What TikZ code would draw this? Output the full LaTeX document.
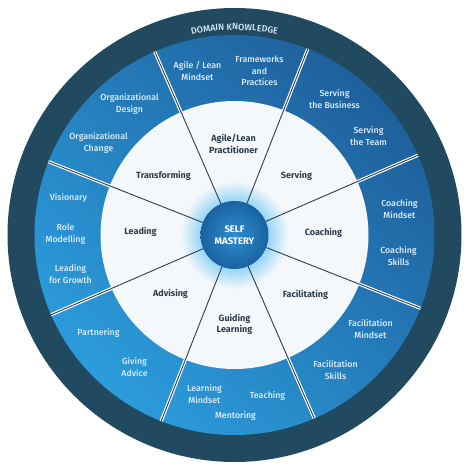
\documentclass[tikz,border=0pt]{standalone}
\usepackage{fontspec}
\setmainfont{Fira Sans}
\newfontfamily\ringfont{Fira Sans Medium}
\usetikzlibrary{decorations.text}

\definecolor{darkring}{HTML}{21495F}
\definecolor{ringtop}{HTML}{1E609C}
\definecolor{ringbot}{HTML}{2C9CDC}
\definecolor{diskfill}{HTML}{F4F8FB}
\definecolor{spoke}{HTML}{2B3F50}
\definecolor{ringtxt}{HTML}{DCECF8}
\definecolor{roletxt}{HTML}{2E3D4C}
\definecolor{glow}{HTML}{9AD6F6}
\definecolor{selfin}{HTML}{2E8ED0}
\definecolor{selfout}{HTML}{1A62A0}

\pgfdeclareradialshading{glowshade}{\pgfpoint{0bp}{0bp}}{color(0bp)=(glow); color(16bp)=(glow); color(25bp)=(diskfill); color(50bp)=(diskfill)}
\pgfdeclareradialshading{selfshade}{\pgfpoint{0bp}{0bp}}{color(0bp)=(selfin); color(25bp)=(selfout); color(50bp)=(selfout)}

\begin{document}
\begin{tikzpicture}[x=1pt, y=1pt,
    ringtext/.style={text=ringtxt, align=center, font=\ringfont\fontsize{8.8}{11.3}\selectfont},
    roletext/.style={text=roletxt, align=center, font=\fontsize{9}{11.3}\selectfont\bfseries},
    spokeouter/.style={draw=white, line width=3.2pt},
    spokeinner/.style={draw=spoke, line width=0.9pt}]
    \useasboundingbox (-234.5,-234) rectangle (239.5,235);

    \fill[darkring] (0,0) circle (227);
    \shade[top color=ringtop, bottom color=ringbot, shading angle=-45] (0,0) circle (200);
    \fill[diskfill] (0,0) circle (134);
    \shade[shading=glowshade] (0,0) circle (54);

    \node[circle, minimum size=68, inner sep=0, shade, shading=selfshade, text=white, align=center,
          font=\fontsize{9.5}{11.7}\selectfont\bfseries] (self) at (0,0) {SELF\\MASTERY};

    \foreach \a [count=\i] in {23.5,68.5,113.5,158.5,203.5,248.5,293.5,338.5} {
        \coordinate (rim\i) at (\a:134);
        \coordinate (edge\i) at (\a:200);
        \draw[spokeouter] (rim\i) -- (edge\i);
        \draw[spokeinner] (self) -- (edge\i);
    }

    \path[decorate, decoration={text along path, text align=center, text color=ringtxt,
          text={|\ringfont\fontsize{9}{9}\selectfont|DOMAIN KNOWLEDGE}}]
        (114:205) arc[start angle=114, end angle=66, radius=205];

    \node[roletext] (practitioner) at (-1,91)   {Agile/Lean\\Practitioner};
    \node[roletext] (serving)      at (62,59)   {Serving};
    \node[roletext] (coaching)     at (89,2)    {Coaching};
    \node[roletext] (facilitating) at (71,-60)  {Facilitating};
    \node[roletext] (guiding)      at (0,-89)   {Guiding\\Learning};
    \node[roletext] (advising)     at (-64,-59) {Advising};
    \node[roletext] (leading)      at (-94,3)   {Leading};
    \node[roletext] (transforming) at (-71,59)  {Transforming};

    \node[ringtext] (agilemind)  at (-37,164)   {Agile / Lean\\Mindset};
    \node[ringtext] (frameworks) at (25,164)    {Frameworks\\and\\Practices};
    \node[ringtext] (servbiz)    at (100,136)   {Serving\\the Business};
    \node[ringtext] (servteam)   at (134,99)    {Serving\\the Team};
    \node[ringtext] (coachmind)  at (165,26)    {Coaching\\Mindset};
    \node[ringtext] (coachskill) at (164,-21)   {Coaching\\Skills};
    \node[ringtext] (facilmind)  at (136,-94)   {Facilitation\\Mindset};
    \node[ringtext] (facilskill) at (101,-135)  {Facilitation\\Skills};
    \node[ringtext] (teaching)   at (33,-161)   {Teaching};
    \node[ringtext] (mentoring)  at (1,-181)    {Mentoring};
    \node[ringtext] (learnmind)  at (-30,-159)  {Learning\\Mindset};
    \node[ringtext] (advice)     at (-100,-132) {Giving\\Advice};
    \node[ringtext] (partnering) at (-136,-98)  {Partnering};
    \node[ringtext] (growth)     at (-164,-39)  {Leading\\for Growth};
    \node[ringtext] (rolemodel)  at (-169,1)    {Role\\Modelling};
    \node[ringtext] (visionary)  at (-166,37)   {Visionary};
    \node[ringtext] (orgchange)  at (-136,92)   {Organizational\\Change};
    \node[ringtext] (orgdesign)  at (-105,131)  {Organizational\\Design};
\end{tikzpicture}
\end{document}
